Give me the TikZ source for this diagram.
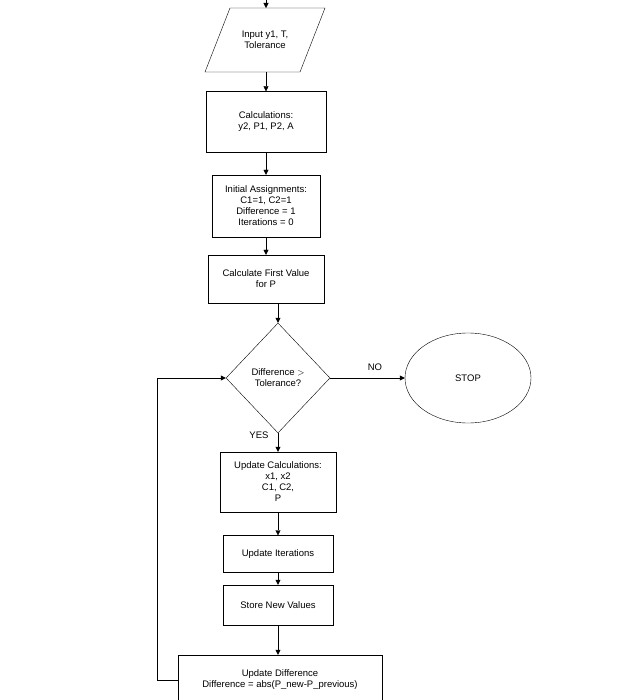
\documentclass[tikz,border=0pt]{standalone}
\usepackage{fontspec}
\setmainfont{Liberation Sans}
\usetikzlibrary{shapes.geometric,arrows.meta}
\begin{document}
\begin{tikzpicture}[x=1pt,y=-1pt,
  box/.style={draw,rectangle,align=center,font=\fontsize{9.5}{11}\selectfont,inner sep=2pt},
  arr/.style={-{Triangle[length=5pt,width=5pt]}},
  lbl/.style={font=\fontsize{9.5}{11}\selectfont}]
\useasboundingbox (0,0) rectangle (633,700);
\fill[white] (0,0) rectangle (633,700);
\coordinate (top) at (266,0);
\coordinate (inT) at (266,8);
\coordinate (inB) at (266,72);
\draw (230,8) -- (325,8) -- (300,72) -- (205,72) -- cycle;
\node[align=center,font=\fontsize{9.5}{11}\selectfont] (in) at (265,40) {Input y1, T,\\Tolerance};
\node[box,minimum width=120pt,minimum height=61pt] (calc) at (266,122) {Calculations:\\y2, P1, P2, A};
\node[box,minimum width=108pt,minimum height=62pt] (init) at (266,206) {Initial Assignments:\\C1=1, C2=1\\Difference = 1\\Iterations = 0};
\node[box,minimum width=116pt,minimum height=48pt] (first) at (266,279) {Calculate First Value\\for P};
\node[draw,diamond,aspect=0.95,minimum width=104pt,minimum height=110pt,align=center,font=\fontsize{9.5}{11}\selectfont,inner sep=0pt] (dec) at (278,378) {Difference $>$\\Tolerance?};
\node[draw,ellipse,minimum width=126pt,minimum height=90pt,font=\fontsize{9.5}{11}\selectfont] (stop) at (468,378) {STOP};
\node[box,minimum width=116pt,minimum height=60pt] (upd) at (278,482) {Update Calculations:\\x1, x2\\C1, C2,\\P};
\node[box,minimum width=110pt,minimum height=37pt] (iter) at (278,554) {Update Iterations};
\node[box,minimum width=110pt,minimum height=40pt] (store) at (278,605) {Store New Values};
\node[box,minimum width=204pt,minimum height=50pt] (diff) at (280,680) {Update Difference\\Difference = abs(P\_new-P\_previous)};
\draw[arr] (top) -- (inT);
\draw[arr] (inB) -- (inB |- calc.north);
\draw[arr] (calc) -- (init);
\draw[arr] (init) -- (first);
\draw[arr] (first.south -| dec) -- (dec.north);
\draw[arr] (dec) -- node[lbl,above=4pt,pos=0.6]{NO} (stop);
\draw[arr] (dec) -- node[lbl,left=6pt,pos=0.1]{YES} (upd);
\draw[arr] (upd) -- (iter);
\draw[arr] (iter) -- (store);
\draw[arr] (store.south) -- (store.south |- diff.north);
\draw[arr] (diff.west) -- (157,680) -- (157,378) -- (dec.west);
\end{tikzpicture}
\end{document}
